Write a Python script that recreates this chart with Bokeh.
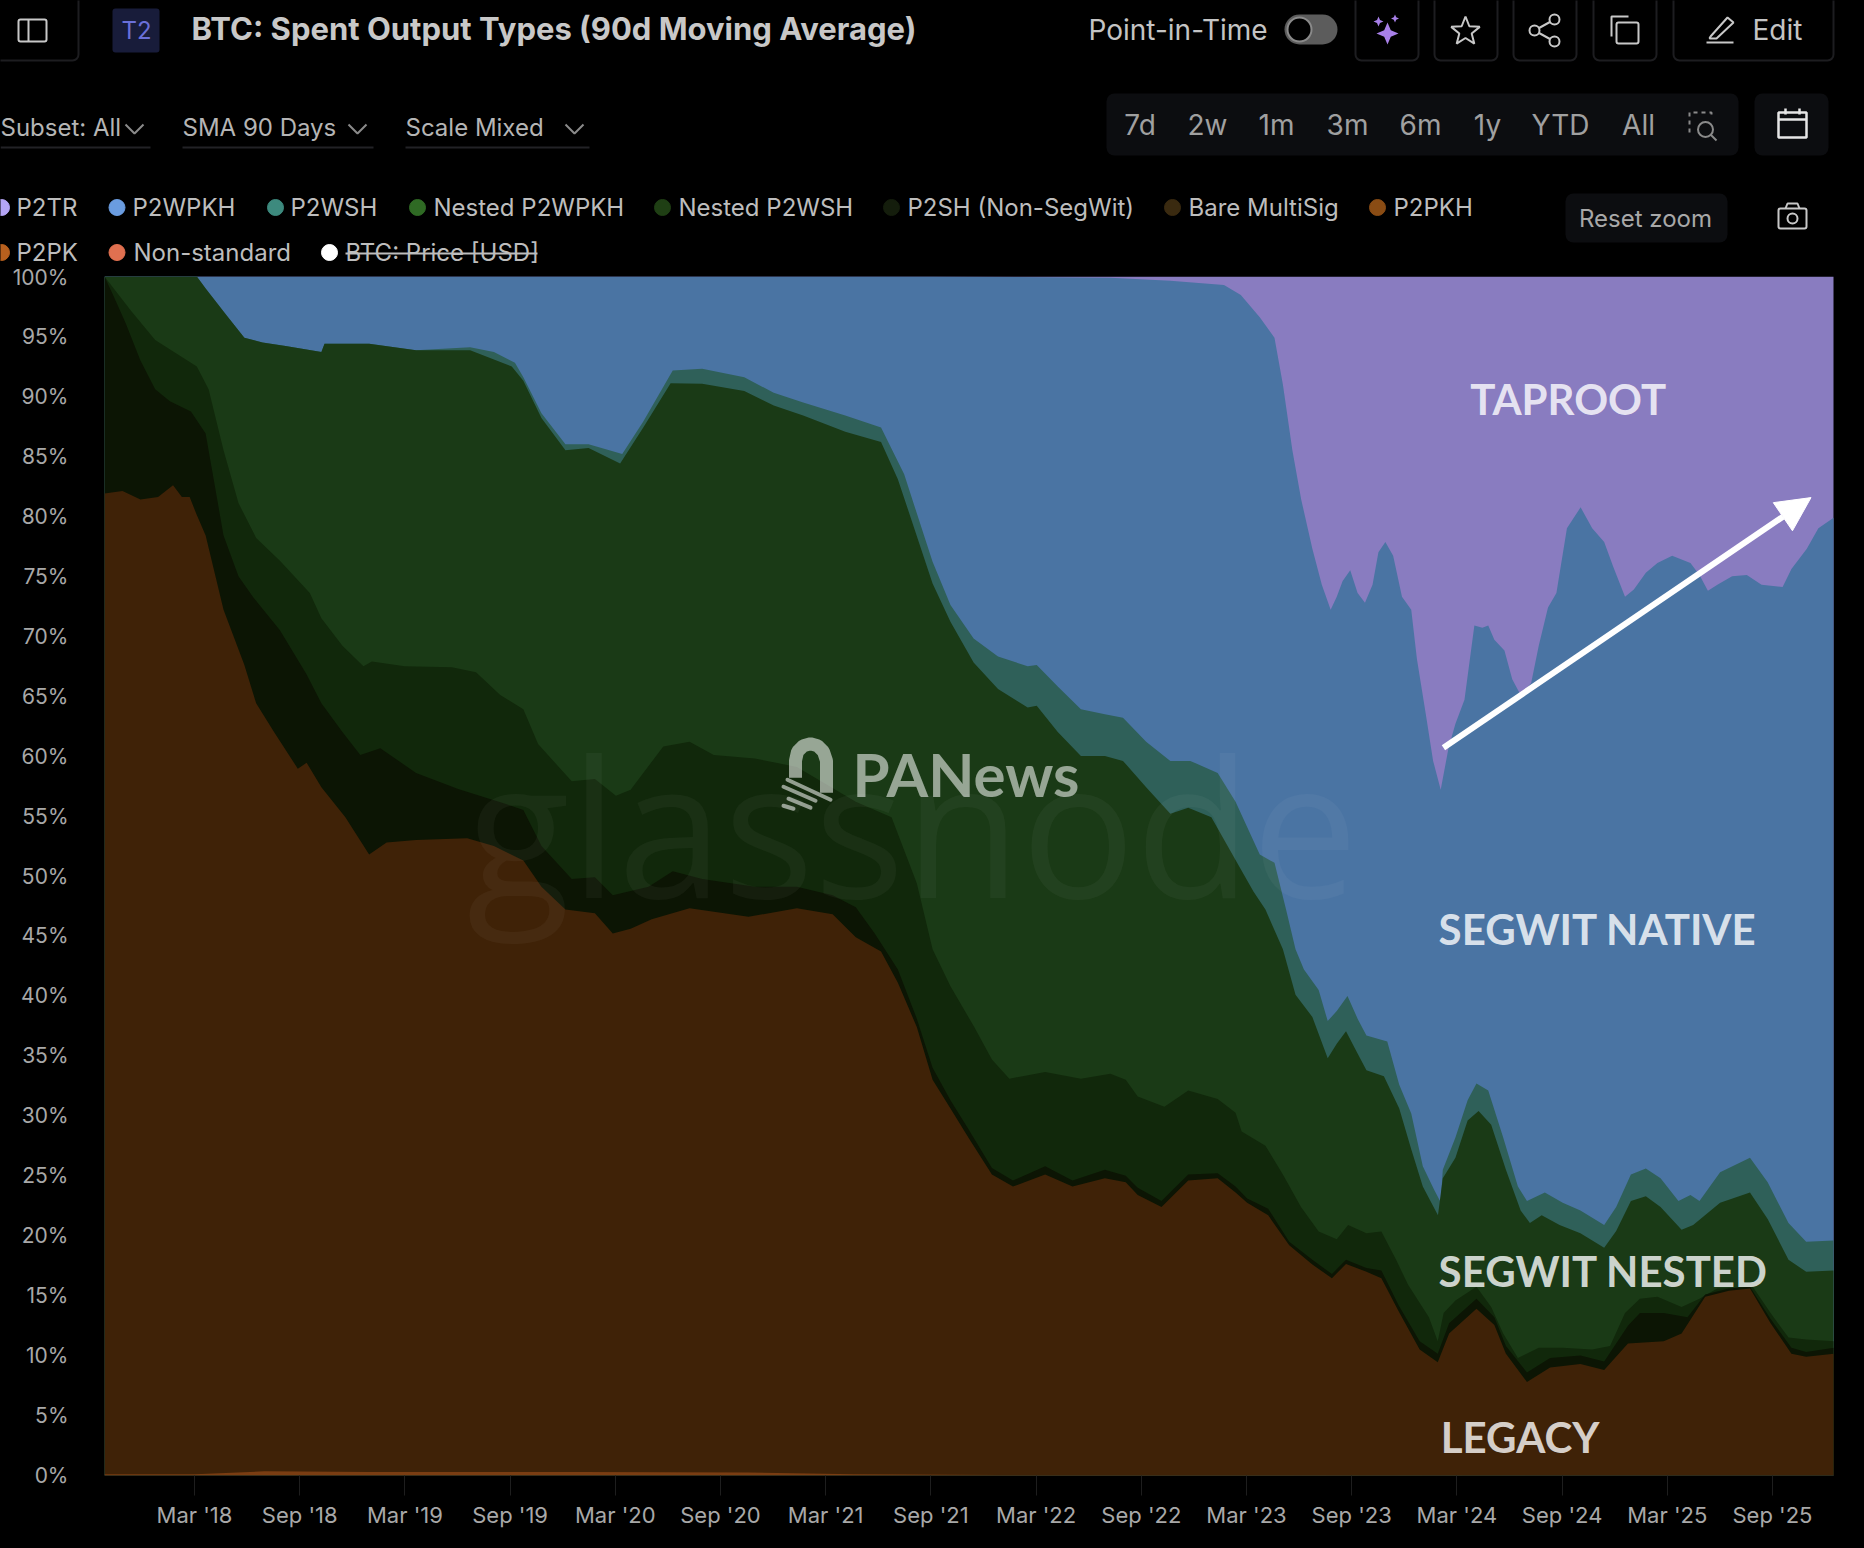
import math

from bokeh.core.properties import value
from bokeh.embed import file_html
from bokeh.models import Arrow, FixedTicker, NormalHead, PrintfTickFormatter, Range1d
from bokeh.plotting import figure
from bokeh.resources import INLINE

# upper edge of each stacked layer, (decimal year, cumulative %)
taproot_top = [(2017.739, 100), (2025.96, 100)]

p2wpkh_top = [
    (2017.739, 100), (2021.675, 100), (2022.52, 99.9), (2022.805, 99.65), (2023.06, 99.3), (2023.14, 98.45),
    (2023.23, 96.6), (2023.30, 94.9), (2023.34, 91), (2023.385, 85.5), (2023.427, 81.4), (2023.48, 77.3),
    (2023.525, 74.3), (2023.567, 72.2), (2023.596, 73.3), (2023.624, 74.6), (2023.66, 75.5), (2023.695, 73.6),
    (2023.73, 72.8), (2023.766, 74.3), (2023.794, 77.0), (2023.827, 77.85), (2023.864, 76.7), (2023.906, 73.3),
    (2023.95, 72.2), (2023.977, 68.1), (2024.02, 63.4), (2024.054, 59.6), (2024.09, 57.2), (2024.127, 60.65),
    (2024.16, 62.7), (2024.203, 64.7), (2024.25, 70.9), (2024.288, 70.7), (2024.316, 70.9), (2024.345, 69.7),
    (2024.393, 68.8), (2024.43, 66.4), (2024.47, 65.1), (2024.52, 66.1), (2024.556, 69.2), (2024.6, 72.4),
    (2024.64, 73.6), (2024.69, 79.0), (2024.755, 80.75), (2024.81, 79.0), (2024.867, 77.85), (2024.91, 75.8),
    (2024.966, 73.3), (2025.008, 73.9), (2025.065, 75.3), (2025.12, 76.1), (2025.19, 76.7), (2025.277, 76.1),
    (2025.32, 75.1), (2025.36, 73.8), (2025.405, 74.3), (2025.475, 75), (2025.545, 75.1), (2025.615, 74.3),
    (2025.715, 74.1), (2025.757, 75.6), (2025.83, 77.3), (2025.885, 79), (2025.96, 79.9),
]

p2wsh_top = [
    (2017.739, 100), (2018.178, 100), (2018.22, 99), (2018.32, 96.75), (2018.404, 94.9), (2018.49, 94.5),
    (2018.60, 94.2), (2018.77, 93.7), (2018.785, 94.4), (2018.997, 94.4), (2019.22, 93.85), (2019.477, 94.1),
    (2019.59, 93.7), (2019.69, 92.8), (2019.73, 91.6), (2019.816, 88.6), (2019.93, 86), (2020.04, 86),
    (2020.2, 85.2), (2020.3, 87.9), (2020.44, 92.15), (2020.58, 92.3), (2020.78, 91.6), (2020.92, 90.3),
    (2021.06, 89.5), (2021.26, 88.4), (2021.43, 87.4), (2021.54, 83.5), (2021.675, 76.2), (2021.76, 72.6),
    (2021.87, 69.8), (2021.986, 68.3), (2022.127, 67.5), (2022.17, 67.6), (2022.27, 65.8), (2022.38, 63.9),
    (2022.494, 63.5), (2022.58, 63.2), (2022.69, 61.2), (2022.805, 59.6), (2022.90, 59.6), (2023.03, 58.6),
    (2023.115, 56.2), (2023.23, 51.8), (2023.30, 51.1), (2023.355, 47.2), (2023.40, 43.9), (2023.44, 42.2),
    (2023.51, 40.5), (2023.553, 37.9), (2023.596, 38.75), (2023.647, 40), (2023.695, 38.1), (2023.737, 36.7),
    (2023.836, 36.2), (2023.893, 32.6), (2023.95, 30.2), (2024.005, 25.8), (2024.06, 23.8), (2024.09, 22.8),
    (2024.10, 25.5), (2024.16, 28.2), (2024.218, 31.3), (2024.26, 32.7), (2024.316, 32.1), (2024.387, 28.2),
    (2024.457, 24.1), (2024.50, 22.9), (2024.585, 23.6), (2024.67, 22.75), (2024.754, 22.1), (2024.867, 20.9),
    (2024.924, 22.4), (2024.994, 25.1), (2025.065, 25.6), (2025.135, 24.8), (2025.22, 22.9), (2025.277, 23.4),
    (2025.32, 22.9), (2025.418, 25.3), (2025.56, 26.5), (2025.644, 24.45), (2025.743, 21.05), (2025.827, 19.5),
    (2025.96, 19.6),
]

nested_p2wpkh_top = [
    (2017.739, 100), (2018.178, 100), (2018.22, 99), (2018.32, 96.75), (2018.404, 94.9), (2018.49, 94.5),
    (2018.60, 94.2), (2018.77, 93.7), (2018.785, 94.4), (2018.997, 94.4), (2019.22, 93.85), (2019.477, 93.85),
    (2019.675, 92.5), (2019.73, 91.3), (2019.816, 88.2), (2019.93, 85.5), (2020.04, 85.7), (2020.19, 84.4),
    (2020.3, 87.4), (2020.43, 91.1), (2020.58, 91.05), (2020.78, 90.45), (2020.92, 89.25), (2021.06, 88.4),
    (2021.26, 87.05), (2021.43, 86.2), (2021.51, 83.1), (2021.675, 74.4), (2021.76, 71.2), (2021.87, 67.8),
    (2021.986, 65.6), (2022.127, 64.05), (2022.17, 64.2), (2022.27, 62), (2022.38, 60), (2022.494, 60),
    (2022.58, 59.6), (2022.69, 57.4), (2022.805, 55.2), (2022.89, 55.7), (2023.0, 54.9), (2023.09, 52.1),
    (2023.2, 48.7), (2023.257, 47.2), (2023.34, 43.9), (2023.40, 40.1), (2023.48, 38.25), (2023.553, 34.8),
    (2023.596, 36), (2023.64, 37.05), (2023.68, 35.7), (2023.737, 33.8), (2023.82, 33.3), (2023.893, 30.6),
    (2023.95, 27.2), (2024.005, 24.1), (2024.077, 21.7), (2024.10, 24.8), (2024.16, 26.5), (2024.218, 29.6),
    (2024.27, 30.4), (2024.33, 29.25), (2024.40, 25.5), (2024.47, 22.1), (2024.514, 21.05), (2024.57, 21.7),
    (2024.655, 20.9), (2024.754, 20.2), (2024.867, 19), (2024.924, 20.4), (2024.994, 22.9), (2025.065, 23.3),
    (2025.135, 22.4), (2025.235, 20.5), (2025.29, 20.9), (2025.418, 22.75), (2025.56, 23.6), (2025.644, 21.4),
    (2025.743, 18), (2025.827, 17), (2025.96, 17.1),
]

nested_p2wsh_top = [
    (2017.739, 100), (2017.867, 97.1), (2017.98, 94.7), (2018.178, 92.5), (2018.234, 90.6), (2018.305, 85.5),
    (2018.376, 81.1), (2018.46, 78.2), (2018.573, 76.3), (2018.715, 73.6), (2018.77, 71.5), (2018.87, 69.2),
    (2018.97, 67.5), (2019.01, 67.9), (2019.166, 67.5), (2019.39, 67.4), (2019.505, 67), (2019.62, 65.1),
    (2019.73, 63.9), (2019.80, 61), (2019.96, 57.9), (2020.07, 58.1), (2020.17, 56.7), (2020.24, 57.2),
    (2020.395, 60.8), (2020.52, 61.2), (2020.635, 60.1), (2020.83, 59.8), (2021.03, 59.1), (2021.31, 56.2),
    (2021.48, 54.9), (2021.6, 49.4), (2021.675, 43.9), (2021.76, 40.8), (2021.873, 37.4), (2021.957, 34.7),
    (2022.04, 33.1), (2022.21, 33.65), (2022.38, 33.1), (2022.52, 33.5), (2022.593, 33), (2022.65, 31.6),
    (2022.777, 30.75), (2022.89, 32.1), (2023.03, 31.4), (2023.115, 30.25), (2023.144, 28.7), (2023.257, 27.5),
    (2023.34, 25.1), (2023.426, 22.4), (2023.51, 20.35), (2023.596, 19.7), (2023.65, 20.9), (2023.737, 20.2),
    (2023.808, 20.35), (2023.878, 18), (2023.935, 15.9), (2024.034, 13.2), (2024.076, 11.2), (2024.104, 13.55),
    (2024.16, 14.6), (2024.26, 15.75), (2024.33, 14.05), (2024.387, 11.85), (2024.457, 9.8), (2024.556, 10.65),
    (2024.67, 10.65), (2024.81, 10.5), (2024.895, 10.8), (2024.966, 13.55), (2025.037, 14.75), (2025.12, 14.9),
    (2025.235, 14.05), (2025.32, 14.75), (2025.404, 15.6), (2025.573, 15.75), (2025.658, 13.55), (2025.743, 11.5),
    (2025.827, 11.35), (2025.96, 11.2),
]

p2sh_top = [
    (2017.739, 100), (2017.78, 98.45), (2017.84, 96.1), (2017.91, 93), (2017.98, 90.6), (2018.05, 89.6),
    (2018.15, 88.75), (2018.22, 86.9), (2018.305, 78.4), (2018.376, 75), (2018.446, 73.25), (2018.573, 70.5),
    (2018.70, 66.8), (2018.77, 64.4), (2018.87, 62), (2018.955, 60.1), (2019.05, 60.65), (2019.22, 58.6),
    (2019.42, 57.25), (2019.647, 56), (2019.73, 55.5), (2019.816, 52.5), (2019.96, 49.75), (2020.07, 49.9),
    (2020.155, 48.4), (2020.325, 49.1), (2020.44, 50.4), (2020.58, 49.75), (2020.83, 49.1), (2021.03, 49.1),
    (2021.20, 48.4), (2021.31, 47.4), (2021.40, 45.2), (2021.51, 42.2), (2021.6, 38.1), (2021.675, 34),
    (2021.76, 31.3), (2021.845, 28.9), (2021.957, 25.65), (2022.057, 24.6), (2022.21, 25.8), (2022.34, 24.6),
    (2022.494, 25.5), (2022.593, 25), (2022.65, 24), (2022.763, 22.9), (2022.89, 25.1), (2023.03, 25.2),
    (2023.115, 24.1), (2023.17, 23.1), (2023.27, 22.25), (2023.37, 19.5), (2023.48, 18), (2023.573, 16.8),
    (2023.64, 18), (2023.737, 17.3), (2023.808, 17.1), (2023.89, 14.2), (2023.99, 11.2), (2024.076, 10.15),
    (2024.13, 12.7), (2024.26, 14.75), (2024.345, 13.2), (2024.40, 10.8), (2024.50, 8.6), (2024.61, 9.8),
    (2024.754, 10), (2024.867, 9.5), (2024.98, 12.5), (2025.037, 13.55), (2025.15, 13.55), (2025.263, 13.2),
    (2025.347, 15.1), (2025.46, 15.6), (2025.56, 15.75), (2025.658, 13.05), (2025.757, 10.65), (2025.827, 10.3),
    (2025.96, 10.65),
]

p2pkh_top = [
    (2017.739, 81.9), (2017.825, 82.1), (2017.91, 81.4), (2017.994, 81.6), (2018.065, 82.6), (2018.107, 81.6),
    (2018.144, 81.6), (2018.178, 80.1), (2018.22, 78.4), (2018.305, 72.2), (2018.404, 67.6), (2018.46, 64.4),
    (2018.545, 62), (2018.658, 58.95), (2018.70, 59.45), (2018.77, 57.4), (2018.884, 54.9), (2018.997, 51.8),
    (2019.08, 52.8), (2019.22, 53), (2019.463, 53.15), (2019.59, 52.5), (2019.73, 51.3), (2019.816, 49.1),
    (2019.93, 47.2), (2020.07, 46.9), (2020.155, 45.2), (2020.24, 45.6), (2020.34, 46.4), (2020.52, 47.3),
    (2020.80, 46.6), (2021.03, 47.3), (2021.20, 46.8), (2021.31, 44.9), (2021.43, 43.7), (2021.51, 41.1),
    (2021.6, 37.4), (2021.675, 33), (2021.76, 30.6), (2021.845, 28.2), (2021.957, 25.1), (2022.057, 24.1),
    (2022.21, 25.1), (2022.34, 24.1), (2022.494, 24.8), (2022.593, 24.45), (2022.65, 23.4), (2022.763, 22.4),
    (2022.89, 24.6), (2023.03, 24.8), (2023.115, 23.6), (2023.17, 22.75), (2023.27, 21.7), (2023.37, 19.2),
    (2023.48, 17.6), (2023.573, 16.45), (2023.64, 17.65), (2023.737, 17), (2023.808, 16.45), (2023.89, 13.7),
    (2023.99, 10.5), (2024.076, 9.45), (2024.13, 11.85), (2024.26, 13.9), (2024.345, 12.55), (2024.40, 10.15),
    (2024.50, 7.8), (2024.61, 9), (2024.754, 9.3), (2024.867, 8.8), (2024.98, 11), (2025.15, 11.2),
    (2025.235, 11.85), (2025.347, 14.9), (2025.46, 15.4), (2025.56, 15.6), (2025.658, 12.7), (2025.757, 10.15),
    (2025.827, 9.9), (2025.96, 10.15),
]

p2pk_top = [
    (2017.739, 0.1), (2018.17, 0.1), (2018.5, 0.35), (2019, 0.3), (2020, 0.3), (2020.8, 0.25), (2021.3, 0.1),
    (2022, 0.05), (2025.96, 0.02),
]

layers = [
    (taproot_top, "#897cc0"),
    (p2wpkh_top, "#4a74a3"),
    (p2wsh_top, "#2f6059"),
    (nested_p2wpkh_top, "#1a3a16"),
    (nested_p2wsh_top, "#11280b"),
    (p2sh_top, "#0c1504"),
    (p2pkh_top, "#3f2207"),
    (p2pk_top, "#7a3d12"),
]

tick_years = [2018.167, 2018.667, 2019.167, 2019.667, 2020.167, 2020.667, 2021.167, 2021.667,
              2022.167, 2022.667, 2023.167, 2023.667, 2024.167, 2024.667, 2025.167, 2025.667]
tick_labels = ["Mar '18", "Sep '18", "Mar '19", "Sep '19", "Mar '20", "Sep '20", "Mar '21", "Sep '21",
               "Mar '22", "Sep '22", "Mar '23", "Sep '23", "Mar '24", "Sep '24", "Mar '25", "Sep '25"]

era_labels = ["TAPROOT", "SEGWIT NATIVE", "SEGWIT NESTED", "LEGACY"]
era_years = [2024.23, 2024.08, 2024.08, 2024.09]
era_pcts = [89.8, 45.6, 17.06, 3.17]

legend_row1 = ["P2TR", "P2WPKH", "P2WSH", "Nested P2WPKH", "Nested P2WSH", "P2SH (Non-SegWit)", "Bare MultiSig", "P2PKH"]
legend_row2 = ["P2PK", "Non-standard", "BTC: Price [USD]"]
legend_colors1 = ["#b5a5f5", "#6a9ce0", "#3d8a7e", "#2f6a24", "#1f3f14", "#141d0c", "#3a2a10", "#8a4c14"]
legend_colors2 = ["#b8601e", "#e07050", "#ffffff"]
range_buttons = ["7d", "2w", "1m", "3m", "6m", "1y", "YTD", "All"]


def x_of(px):
    # picture pixel to decimal year
    return 2018.167 + (px - 194) / 210.4


def y_of(py):
    # picture pixel to percent
    return (1474.5 - py) / 11.985


# ---- toolbar and legend strip above the chart, in picture pixels
hdr = figure(width=1864, height=264, x_range=(0, 1864), y_range=(264, 0), toolbar_location=None,
             output_backend="svg", min_border=0, background_fill_color="#000000", border_fill_color="#000000")
hdr.axis.visible = False
hdr.grid.visible = False
hdr.outline_line_color = None

ui_font = value("Inter")
edge = "#1d1d20"
panel = "#0c0d10"
icon = "#c8c8c8"

# buttons on the top row
hdr.quad(left=[-10, 1355, 1434, 1513, 1593, 1673], right=[78, 1418, 1497, 1576, 1656, 1833], top=[-10] * 6,
         bottom=[60] * 6, fill_color=None, line_color=edge, line_width=2, border_radius=6)
hdr.quad(left=[112], right=[159], top=[8], bottom=[52], fill_color="#181c3a", line_color=None, border_radius=3)
hdr.quad(left=[1106, 1754, 1565], right=[1738, 1828, 1727], top=[93, 93, 193], bottom=[155, 155, 242],
         fill_color=panel, line_color=None, border_radius=8)

hdr.text(x=[136], y=[30], text=["T2"], text_font=ui_font, text_font_size="24px", text_color="#6a70d8",
         text_align="center", text_baseline="middle")
hdr.text(x=[191], y=[28], text=["BTC: Spent Output Types (90d Moving Average)"], text_font=ui_font,
         text_font_size="31px", text_font_style="bold", text_color="#c8c8c8", text_baseline="middle")
hdr.text(x=[1088, 1752], y=[29, 29], text=["Point-in-Time", "Edit"], text_font=ui_font, text_font_size="28px",
         text_color="#c4c4c4", text_baseline="middle")

# dropdowns
hdr.text(x=[0, 182, 405], y=[127, 127, 127], text=["Subset: All", "SMA 90 Days", "Scale Mixed"], text_font=ui_font,
         text_font_size="24px", text_color="#b5b5b5", text_baseline="middle")
hdr.multi_line(xs=[[125, 134, 143], [348, 357, 366], [565, 574, 583]], ys=[[124, 133, 124]] * 3,
               line_color="#8a8a8a", line_width=2)
hdr.segment(x0=[0, 182, 405], x1=[150, 373, 589], y0=[147] * 3, y1=[147] * 3, line_color="#222226", line_width=2)

# range picker
hdr.text(x=[1139.5, 1207, 1276, 1347, 1420, 1487, 1560, 1638], y=[124] * 8, text=range_buttons, text_font=ui_font,
         text_font_size="28px", text_color="#a0a0a0", text_align="center", text_baseline="middle")
hdr.text(x=[1645], y=[218], text=["Reset zoom"], text_font=ui_font, text_font_size="24px", text_color="#a8a8a8",
         text_align="center", text_baseline="middle")

# legend
row1_dot = [1, 116.5, 275, 417, 662, 891, 1172, 1377]
row1_txt = [16, 132, 290, 433, 678, 907, 1188, 1393]
row2_dot = [1, 116.5, 329]
row2_txt = [16, 133, 345]
hdr.scatter(x=row1_dot, y=[207] * 8, size=16, color=legend_colors1)
hdr.scatter(x=row2_dot, y=[252] * 3, size=16, color=legend_colors2)
hdr.text(x=row1_txt, y=[207] * 8, text=legend_row1, text_font=ui_font, text_font_size="24px", text_color="#bdbdbd",
         text_baseline="middle")
hdr.text(x=row2_txt, y=[252] * 3, text=legend_row2, text_font=ui_font, text_font_size="24px", text_color="#bdbdbd",
         text_baseline="middle")
hdr.line(x=[345, 537], y=[253, 253], line_color="#bdbdbd", line_width=2)

# sidebar icon
hdr.quad(left=[18], right=[46], top=[19], bottom=[41], fill_color=None, line_color=icon, line_width=2, border_radius=2)
hdr.line(x=[28, 28], y=[19, 41], line_color=icon, line_width=2)

# toggle
hdr.line(x=[1299, 1322], y=[29, 29], line_color="#5c5c5c", line_width=30, line_cap="round")
hdr.scatter(x=[1299], y=[29], size=24, fill_color="#000000", line_color="#8a8a8a", line_width=2)


def sparkle(cx, cy, r):
    w = r * 0.3
    return ([cx, cx + w, cx + r, cx + w, cx, cx - w, cx - r, cx - w],
            [cy - r, cy - w, cy, cy + w, cy + r, cy + w, cy, cy - w])


sparks = [sparkle(1387, 33, 11), sparkle(1378, 21, 5), sparkle(1394.5, 18, 4)]
hdr.patches(xs=[s[0] for s in sparks], ys=[s[1] for s in sparks], fill_color="#a880e8", line_color=None)

# star
star_r = [15 if i % 2 == 0 else 6.5 for i in range(11)]
star_x = [1465 + r * math.sin(i * math.pi / 5) for i, r in enumerate(star_r)]
star_y = [31 - r * math.cos(i * math.pi / 5) for i, r in enumerate(star_r)]
hdr.line(x=star_x, y=star_y, line_color=icon, line_width=2)

# share
hdr.multi_line(xs=[[1554, 1534, 1554]], ys=[[19, 30, 41]], line_color=icon, line_width=2)
hdr.scatter(x=[1554, 1534, 1554], y=[19, 30, 41], size=10, fill_color="#000000", line_color=icon, line_width=2)

# copy
hdr.quad(left=[1616], right=[1638], top=[22], bottom=[43], fill_color=None, line_color=icon, line_width=2, border_radius=2)
hdr.line(x=[1611, 1611, 1628], y=[36, 16, 16], line_color=icon, line_width=2)

# pencil
hdr.line(x=[1710, 1727, 1733, 1716, 1709, 1710], y=[36, 17, 22, 38, 38, 36], line_color=icon, line_width=2)
hdr.line(x=[1706, 1733], y=[42, 42], line_color=icon, line_width=2)

# zoom selection
hdr.line(x=[1689, 1689, 1711, 1711], y=[132, 112, 112, 118], line_color="#8a8a8a", line_width=2, line_dash="4 4")
hdr.scatter(x=[1705], y=[129], size=15, fill_color=None, line_color="#8a8a8a", line_width=2)
hdr.line(x=[1710, 1716], y=[134, 140], line_color="#8a8a8a", line_width=2)

# calendar
hdr.quad(left=[1778], right=[1806], top=[112], bottom=[137], fill_color=None, line_color="#e6e6e6", line_width=2.5)
hdr.segment(x0=[1778, 1785, 1799], x1=[1806, 1785, 1799], y0=[119, 108, 108], y1=[119, 114, 114], line_color="#e6e6e6", line_width=2.5)

# camera
hdr.quad(left=[1778], right=[1806], top=[208], bottom=[228], fill_color=None, line_color=icon, line_width=2, border_radius=2)
hdr.line(x=[1785, 1787, 1797, 1799], y=[208, 203, 203, 208], line_color=icon, line_width=2)
hdr.scatter(x=[1792], y=[218], size=10, fill_color=None, line_color=icon, line_width=2)

# ---- the chart
chart = figure(width=1864, height=1284, x_range=Range1d(x_of(104), x_of(1833)), y_range=Range1d(0, 100),
               toolbar_location=None, output_backend="svg", min_border_left=104, min_border_right=31,
               min_border_top=12, min_border_bottom=73, background_fill_color="#000000",
               border_fill_color="#000000")
chart.grid.visible = False
chart.outline_line_color = None

for edge_points, colour in layers:
    xs = [pt[0] for pt in edge_points]
    ys = [pt[1] for pt in edge_points]
    chart.varea(x=xs, y1=[0] * len(xs), y2=ys, fill_color=colour)

chart.xaxis.ticker = FixedTicker(ticks=tick_years)
chart.xaxis.major_label_overrides = dict(zip(tick_years, tick_labels))
chart.xaxis.axis_line_color = None
chart.xaxis.major_tick_line_color = "#1e1e1e"
chart.xaxis.major_tick_out = 20
chart.xaxis.major_tick_in = 0
chart.xaxis.minor_tick_line_color = None
chart.xaxis.major_label_standoff = 6
chart.xaxis.major_label_text_font_size = "22px"

chart.yaxis.ticker = FixedTicker(ticks=list(range(0, 101, 5)))
chart.yaxis.formatter = PrintfTickFormatter(format="%d%%")
chart.yaxis.axis_line_color = None
chart.yaxis.major_tick_line_color = None
chart.yaxis.minor_tick_line_color = None
chart.yaxis.major_label_standoff = 30
chart.yaxis.major_label_text_font_size = "21px"

for ax in (chart.xaxis[0], chart.yaxis[0]):
    ax.major_label_text_font = "Inter"
    ax.major_label_text_color = "#a8a8a8"

# glassnode mark behind everything written on the chart
chart.text(x=[x_of(912)], y=[y_of(824)], text=["glassnode"], text_font=value("Open Sans"), text_font_size="190px",
           text_color="#ffffff", text_alpha=0.04, text_align="center", text_baseline="alphabetic")

# PANews mark
mark = "#ffffff"
arch_x = [795, 795, 797, 803, 810, 817, 823, 826, 826]
arch_y = [777, 760, 751, 745, 743, 745, 751, 760, 792]
chart.line(x=[x_of(v) for v in arch_x], y=[y_of(v) for v in arch_y], line_color=mark, line_alpha=0.55, line_width=13)
stripe_x0 = [787, 783, 788, 783]
stripe_x1 = [830, 815, 810, 793]
stripe_y0 = [779, 786, 798, 805]
stripe_y1 = [799, 800, 807, 808]
chart.segment(x0=[x_of(v) for v in stripe_x0], x1=[x_of(v) for v in stripe_x1],
              y0=[y_of(v) for v in stripe_y0], y1=[y_of(v) for v in stripe_y1],
              line_color=mark, line_alpha=0.55, line_width=4, line_cap="round")
chart.text(x=[x_of(852)], y=[y_of(773)], text=["PANews"], text_font=value("Lato"), text_font_style="bold",
           text_font_size="60px", text_color=mark, text_alpha=0.55, text_baseline="middle")

chart.text(x=era_years, y=era_pcts, text=era_labels, text_font=value("Lato"), text_font_style="bold",
           text_font_size="42px", text_color="#ffffff", text_alpha=0.8, text_baseline="middle")

chart.add_layout(Arrow(end=NormalHead(size=34, fill_color="#ffffff", line_color="#ffffff"),
                       x_start=2024.103, y_start=60.7, x_end=2025.85, y_end=81.56,
                       line_color="#ffffff", line_width=6))

# two separate roots, so the strip and the chart do not line their frames up
html = file_html([hdr, chart], INLINE).replace("</head>", "<style>html,body{background:#000000}</style></head>")
open("out.html", "w").write(html)
